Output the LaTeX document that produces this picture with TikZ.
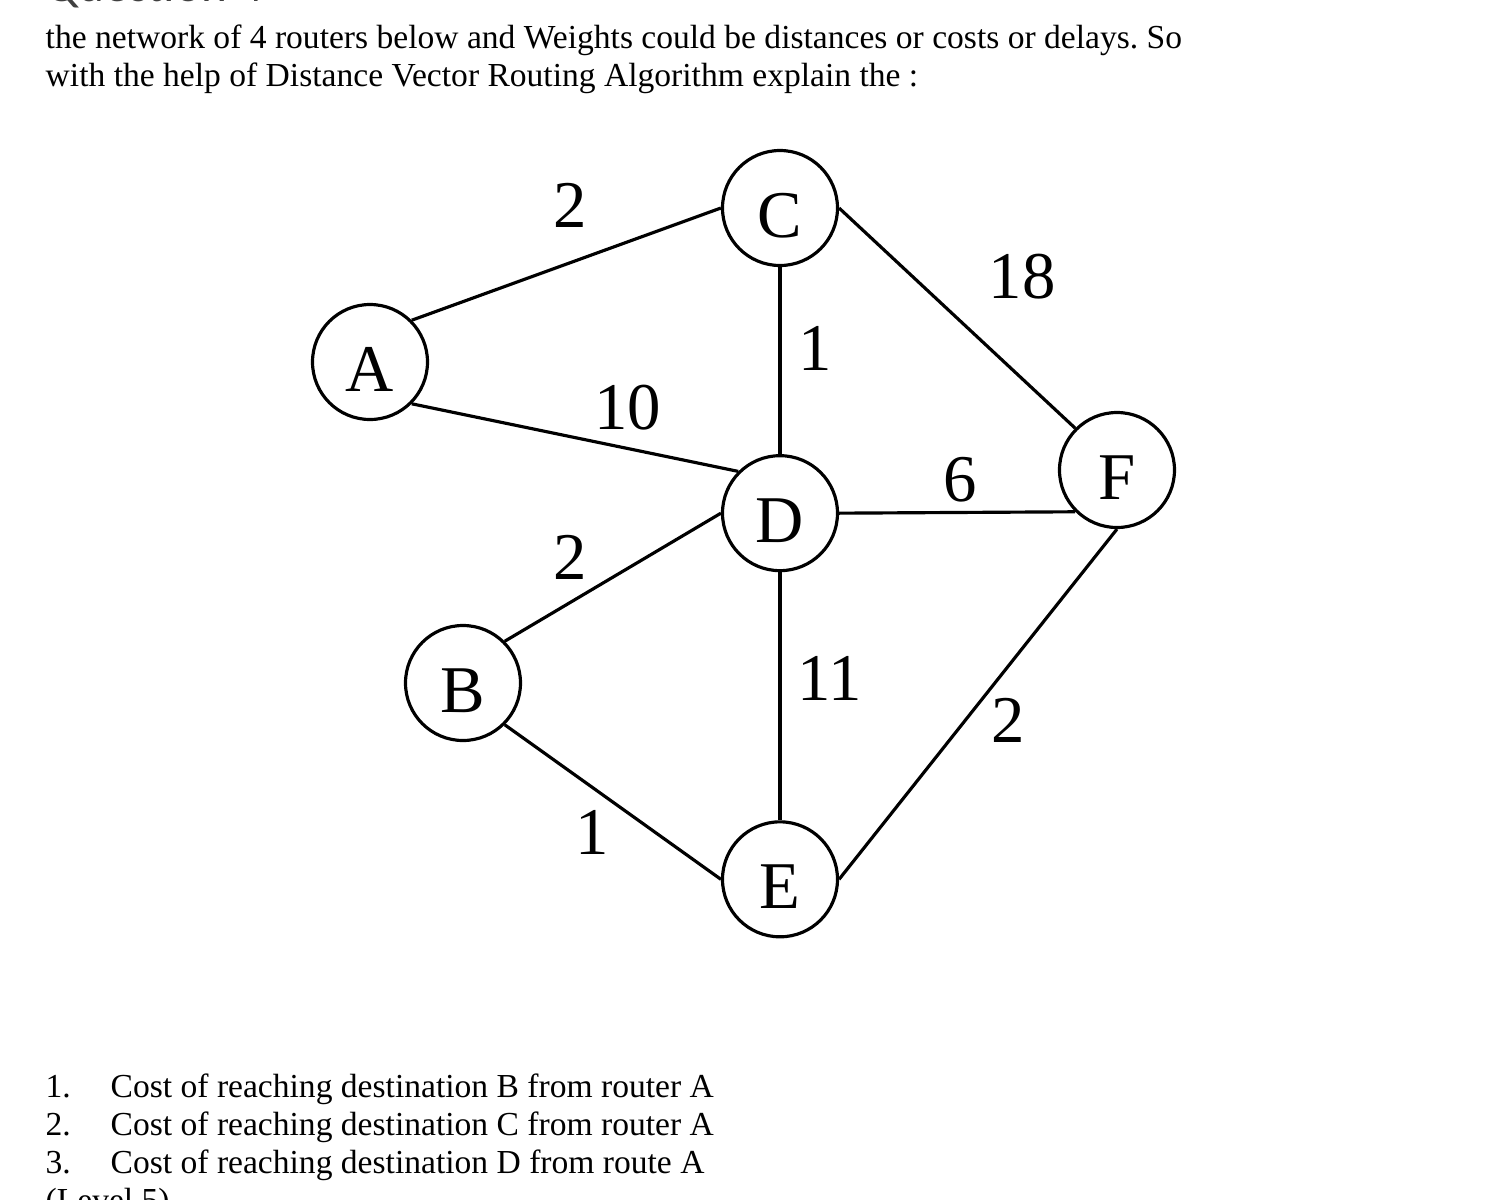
\documentclass[tikz,border=0pt]{standalone}
\usepackage{fontspec}
\setmainfont{Liberation Serif}
\newfontfamily\headfont{Carlito}
\usetikzlibrary{positioning}
\frenchspacing

\begin{document}
\begin{tikzpicture}[
  router/.style={draw, circle, line width=0.9pt, minimum size=1.15cm,
                 inner sep=0pt, text height=0.58cm, text depth=0pt,
                 font=\fontsize{19}{19}\selectfont},
  cost/.style={inner sep=0pt, font=\fontsize{19}{19}\selectfont},
  link/.style={line width=0.9pt},
  body/.style={anchor=base west, inner sep=0pt,
               font=\fontsize{9.55}{11}\selectfont}
]
  \useasboundingbox (0,0) rectangle (14.88,-12);
  \clip (0,0) rectangle (14.88,-12);

  % question text
  \node[anchor=base west, inner sep=0pt, text=black!75,
        font={\headfont\fontsize{14}{16}\selectfont}] (head) at (0.45,-0.01) {Question 4};
  \node[body] (intro1) at (0.45,-0.48)
    {the network of 4 routers below and Weights could be distances or costs or delays. So};
  \node[body] (intro2) at (0.45,-0.86)
    {with the help of Distance Vector Routing Algorithm explain the :};

  % routers
  \node[router] (A) at (3.70,-3.62) {A};
  \node[router] (C) at (7.80,-2.08) {C};
  \node[router, below=1.87cm of C] (D) {D};
  \node[router, below=2.48cm of D] (E) {E};
  \node[router] (B) at (4.63,-6.83) {B};
  \node[router] (F) at (11.17,-4.70) {F};

  % links
  \draw[link] (A.45)    -- (C.west);
  \draw[link] (A.-45)   -- (D.135);
  \draw[link] (C.south) -- (D.north);
  \draw[link] (C.east)  -- (F.135);
  \draw[link] (D.east)  -- (F.225);
  \draw[link] (B.45)    -- (D.west);
  \draw[link] (B.-45)   -- (E.west);
  \draw[link] (D.south) -- (E.north);
  \draw[link] (E.east)  -- (F.south);

  % weights
  \node[cost] (wAC) at (5.70,-2.05) {2};
  \node[cost] (wCF) at (10.22,-2.77) {18};
  \node[cost] (wCD) at (8.15,-3.48) {1};
  \node[cost] (wAD) at (6.28,-4.08) {10};
  \node[cost] (wDF) at (9.60,-4.80) {6};
  \node[cost] (wBD) at (5.70,-5.57) {2};
  \node[cost] (wDE) at (8.30,-6.78) {11};
  \node[cost] (wEF) at (10.08,-7.20) {2};
  \node[cost] (wBE) at (5.92,-8.32) {1};

  % questions
  \node[body] (n1) at (0.45,-10.97) {1.};
  \node[body] (t1) at (1.10,-10.97) {Cost of reaching destination B from router A};
  \node[body] (n2) at (0.45,-11.35) {2.};
  \node[body] (t2) at (1.10,-11.35) {Cost of reaching destination C from router A};
  \node[body] (n3) at (0.45,-11.73) {3.};
  \node[body] (t3) at (1.10,-11.73) {Cost of reaching destination D from route A};
  \node[body] (lvl) at (0.45,-12.11) {(Level 5)};
\end{tikzpicture}
\end{document}
